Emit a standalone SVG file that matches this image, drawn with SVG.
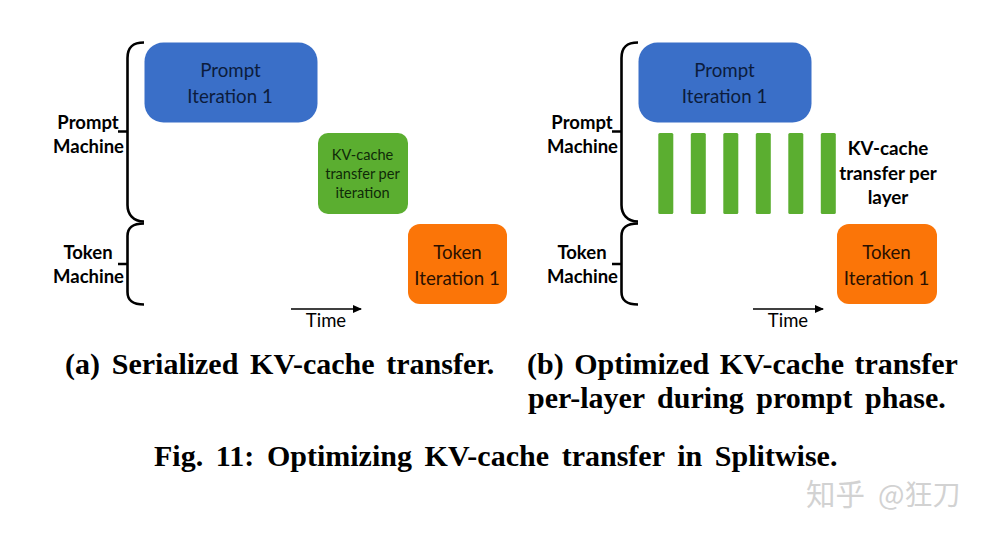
<svg xmlns="http://www.w3.org/2000/svg" width="984" height="536" viewBox="0 0 984 536">
<style>
text{font-family:"Lato","Liberation Sans",sans-serif;text-anchor:middle;fill:#000}
.blue{fill:#3a6fc8}.green{fill:#5bae30}.orange{fill:#fb7508}
.box{font-size:18.700px;fill:#0c1c3c}.boxo{font-size:18.700px;fill:#2a1000}.small{font-size:14.600px;fill:#0f2a08}
.lab{font-size:18.500px;font-weight:700}
.time{font-size:18.500px}
.cap{font-family:"Liberation Serif",serif;font-weight:700;font-size:30px;text-anchor:start}
.brace{fill:none;stroke:#000;stroke-width:2.600}
.wm{font-family:"Noto Sans CJK SC",sans-serif;font-size:28px;fill:#d2d2d2;text-anchor:start}
</style>
<defs>
<marker id="arr" markerWidth="9" markerHeight="8" refX="8" refY="4" orient="auto" markerUnits="userSpaceOnUse"><path d="M0 0L9 4L0 8Z" fill="#000"/></marker>
</defs>
<rect width="984" height="536" fill="#fff"/>
<g id="connectors">
<path class="brace" d="M144 42.500C133 42.500 127.500 47 127.500 58V205C127.500 214 133 221.500 144 221.500M118 131.500H127.500"/>
<path class="brace" d="M144 223.500C133 223.500 127.500 227 127.500 236V292C127.500 301 133 304.500 144 304.500M118 264H127.500"/>
<path class="brace" d="M638 42.500C627 42.500 621.500 47 621.500 58V205C621.500 214 627 221.500 638 221.500M612 131.500H621.500"/>
<path class="brace" d="M638 223.500C627 223.500 621.500 227 621.500 236V292C621.500 301 627 304.500 638 304.500M612 264H621.500"/>
<line x1="291" y1="309" x2="361" y2="309" stroke="#000" stroke-width="1.600" marker-end="url(#arr)"/>
<line x1="753" y1="309" x2="823" y2="309" stroke="#000" stroke-width="1.600" marker-end="url(#arr)"/>
</g>
<g id="a-prompt"><rect class="blue" x="144.500" y="42.500" width="173" height="80" rx="19"/><text class="box" x="230.500" y="76.500">Prompt</text><text class="box" x="230" y="102.500">Iteration 1</text></g>
<g id="a-kv"><rect class="green" x="318" y="133" width="90" height="81" rx="10"/><text class="small" x="362.500" y="160">KV-cache</text><text class="small" x="362.500" y="179">transfer per</text><text class="small" x="362.500" y="198">iteration</text></g>
<g id="a-token"><rect class="orange" x="408" y="224" width="99" height="80" rx="12"/><text class="boxo" x="457.500" y="258.500">Token</text><text class="boxo" x="457" y="284.500">Iteration 1</text></g>
<g id="a-prompt-machine"><text class="lab" x="88" y="128.500">Prompt</text><text class="lab" x="88.500" y="152.500">Machine</text></g>
<g id="a-token-machine"><text class="lab" x="88" y="258.500">Token</text><text class="lab" x="88.500" y="282.500">Machine</text></g>
<g id="a-time"><text class="time" x="326" y="327">Time</text></g>
<g id="b-prompt"><rect class="blue" x="638.500" y="42.500" width="173" height="80" rx="19"/><text class="box" x="724.500" y="76.500">Prompt</text><text class="box" x="724.500" y="102.500">Iteration 1</text></g>
<g id="b-kv"><g class="green">
<rect x="658.300" y="133" width="15" height="81" rx="1.500"/><rect x="690.800" y="133" width="15" height="81" rx="1.500"/><rect x="723.300" y="133" width="15" height="81" rx="1.500"/><rect x="755.800" y="133" width="15" height="81" rx="1.500"/><rect x="788.300" y="133" width="15" height="81" rx="1.500"/><rect x="820.800" y="133" width="15" height="81" rx="1.500"/></g>
<text class="lab" x="888" y="154.500" style="font-size:18.800px">KV-cache</text><text class="lab" x="888" y="179.500" style="font-size:18.800px">transfer per</text><text class="lab" x="888" y="203.500" style="font-size:18.800px">layer</text></g>
<g id="b-token"><rect class="orange" x="837" y="224" width="100" height="80" rx="12"/><text class="boxo" x="886.500" y="258.500">Token</text><text class="boxo" x="886.500" y="284.500">Iteration 1</text></g>
<g id="b-prompt-machine"><text class="lab" x="582" y="128.500">Prompt</text><text class="lab" x="582.500" y="152.500">Machine</text></g>
<g id="b-token-machine"><text class="lab" x="582" y="258.500">Token</text><text class="lab" x="582.500" y="282.500">Machine</text></g>
<g id="b-time"><text class="time" x="788" y="327">Time</text></g>
<g id="captions">
<text class="cap" x="65" y="374" word-spacing="4.250">(a) Serialized KV-cache transfer.</text>
<text class="cap" x="527" y="374" word-spacing="3">(b) Optimized KV-cache transfer</text>
<text class="cap" x="528" y="408" word-spacing="5">per-layer during prompt phase.</text>
<text class="cap" x="154" y="466" word-spacing="5.200">Fig. 11: Optimizing KV-cache transfer in Splitwise.</text>
</g>
<g id="watermark"><text class="wm" x="806" y="505" style="font-size:29.500px">知乎</text><text class="wm" x="878" y="505">@狂刀</text></g>
</svg>
